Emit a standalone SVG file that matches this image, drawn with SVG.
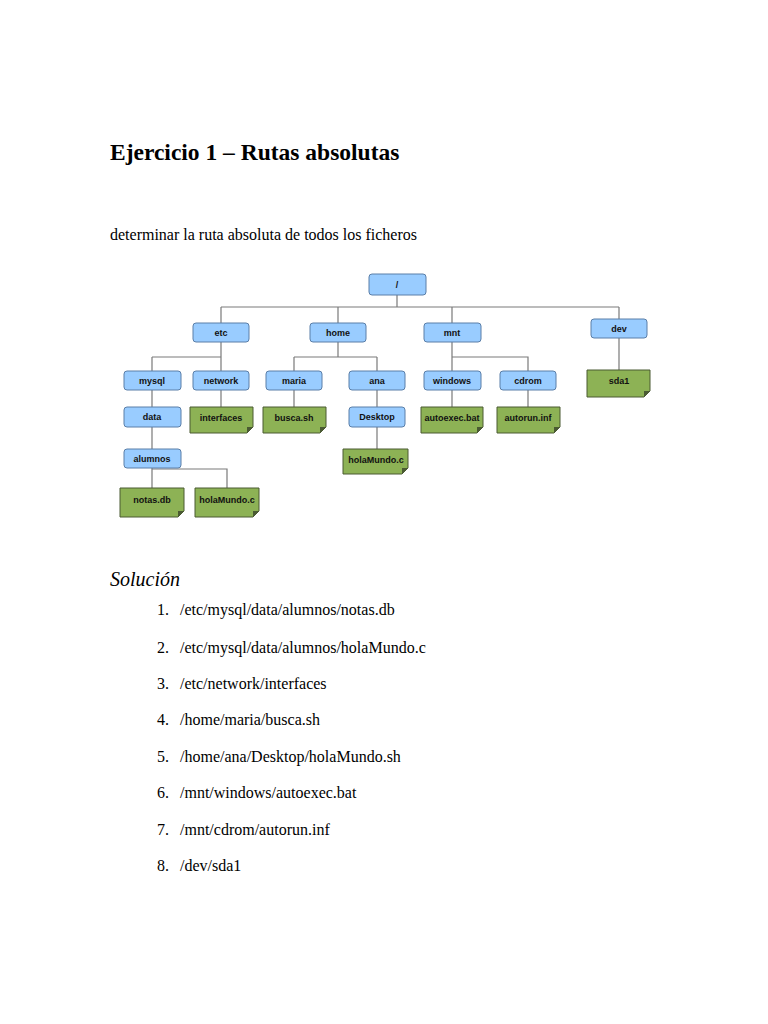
<svg xmlns="http://www.w3.org/2000/svg" width="768" height="1024" viewBox="0 0 768 1024">
<style>
.d{fill:#99ccff;stroke:#5a7ea8;stroke-width:1}
.f{fill:#8db255;stroke:#4a5a33;stroke-width:1}
.c{fill:#4a5a33}
.l{fill:none;stroke:#7a7a7a;stroke-width:1.2}
.t{font-family:"Liberation Sans",Arial,sans-serif;font-size:9px;font-weight:bold;text-anchor:middle;fill:#111}
.s{font-family:"Liberation Serif","Times New Roman",serif;font-size:16px;fill:#000}
</style>
<rect width="768" height="1024" fill="#fff"/>
<text x="110" y="160" class="s" style="font-size:23.5px;font-weight:bold">Ejercicio 1 – Rutas absolutas</text>
<text x="110" y="240" class="s">determinar la ruta absoluta de todos los ficheros</text>
<g id="connectors">
<path class="l" d="M397 295V307M221 307H619M221 307V323M338 307V323M452 307V323M619 307V319"/>
<path class="l" d="M221 342V371M152 357H221M152 357V371M152 390V407M152 427V449M338 342V357M294 357H377M294 357V371M377 357V371M294 390V407M377 390V407M377 427V449M452 342V371M452 357H528V371M452 390V407M528 390V407M619 338V370M221 390V407M152 468V488M152 469H227V488"/>
</g>
<g id="root"><rect class="d" x="369" y="274" width="57" height="21" rx="3"/><text class="t" x="397" y="288">/</text></g>
<g id="etc"><rect class="d" x="193" y="323" width="56" height="19" rx="3"/><text class="t" x="221" y="336">etc</text></g>
<g id="home"><rect class="d" x="310" y="323" width="56" height="19" rx="3"/><text class="t" x="338" y="336">home</text></g>
<g id="mnt"><rect class="d" x="424" y="323" width="57" height="19" rx="3"/><text class="t" x="452" y="336">mnt</text></g>
<g id="dev"><rect class="d" x="591" y="319" width="56" height="19" rx="3"/><text class="t" x="619" y="332">dev</text></g>
<g id="mysql"><rect class="d" x="124" y="371" width="57" height="19" rx="3"/><text class="t" x="152" y="384">mysql</text></g>
<g id="network"><rect class="d" x="193" y="371" width="56" height="19" rx="3"/><text class="t" x="221" y="384">network</text></g>
<g id="maria"><rect class="d" x="266" y="371" width="56" height="19" rx="3"/><text class="t" x="294" y="384">maria</text></g>
<g id="ana"><rect class="d" x="349" y="371" width="56" height="19" rx="3"/><text class="t" x="377" y="384">ana</text></g>
<g id="windows"><rect class="d" x="424" y="371" width="57" height="19" rx="3"/><text class="t" x="452" y="384">windows</text></g>
<g id="cdrom"><rect class="d" x="500" y="371" width="56" height="19" rx="3"/><text class="t" x="528" y="384">cdrom</text></g>
<g id="data"><rect class="d" x="124" y="407" width="57" height="20" rx="3"/><text class="t" x="152" y="420">data</text></g>
<g id="Desktop"><rect class="d" x="349" y="407" width="56" height="20" rx="3"/><text class="t" x="377" y="420">Desktop</text></g>
<g id="alumnos"><rect class="d" x="124" y="449" width="57" height="19" rx="3"/><text class="t" x="152" y="462">alumnos</text></g>
<g id="interfaces"><path class="f" d="M190 407H253V427L247 433H190Z"/><path class="c" d="M247 433L253 427H247Z"/><text class="t" x="221" y="421">interfaces</text></g>
<g id="busca"><path class="f" d="M263 407H326V427L320 433H263Z"/><path class="c" d="M320 433L326 427H320Z"/><text class="t" x="294" y="421">busca.sh</text></g>
<g id="autoexec"><path class="f" d="M421 407H483V427L477 433H421Z"/><path class="c" d="M477 433L483 427H477Z"/><text class="t" x="452" y="421">autoexec.bat</text></g>
<g id="autorun"><path class="f" d="M497 407H560V427L554 433H497Z"/><path class="c" d="M554 433L560 427H554Z"/><text class="t" x="528" y="421">autorun.inf</text></g>
<g id="sda1"><path class="f" d="M587 370H650V391L644 397H587Z"/><path class="c" d="M644 397L650 391H644Z"/><text class="t" x="619" y="384">sda1</text></g>
<g id="holaMundo2"><path class="f" d="M343 449H408V468L402 474H343Z"/><path class="c" d="M402 474L408 468H402Z"/><text class="t" x="376" y="463">holaMundo.c</text></g>
<g id="notas"><path class="f" d="M120 488H184V511L178 517H120Z"/><path class="c" d="M178 517L184 511H178Z"/><text class="t" x="152" y="503">notas.db</text></g>
<g id="holaMundo1"><path class="f" d="M195 488H259V511L253 517H195Z"/><path class="c" d="M253 517L259 511H253Z"/><text class="t" x="227" y="503">holaMundo.c</text></g>
<text x="110" y="586" class="s" style="font-size:20px;font-style:italic">Solución</text>
<g class="s">
<text x="157" y="615">1.</text><text x="180" y="615">/etc/mysql/data/alumnos/notas.db</text>
<text x="157" y="653">2.</text><text x="180" y="653">/etc/mysql/data/alumnos/holaMundo.c</text>
<text x="157" y="689">3.</text><text x="180" y="689">/etc/network/interfaces</text>
<text x="157" y="725">4.</text><text x="180" y="725">/home/maria/busca.sh</text>
<text x="157" y="762">5.</text><text x="180" y="762">/home/ana/Desktop/holaMundo.sh</text>
<text x="157" y="798">6.</text><text x="180" y="798">/mnt/windows/autoexec.bat</text>
<text x="157" y="835">7.</text><text x="180" y="835">/mnt/cdrom/autorun.inf</text>
<text x="157" y="871">8.</text><text x="180" y="871">/dev/sda1</text>
</g>
</svg>
